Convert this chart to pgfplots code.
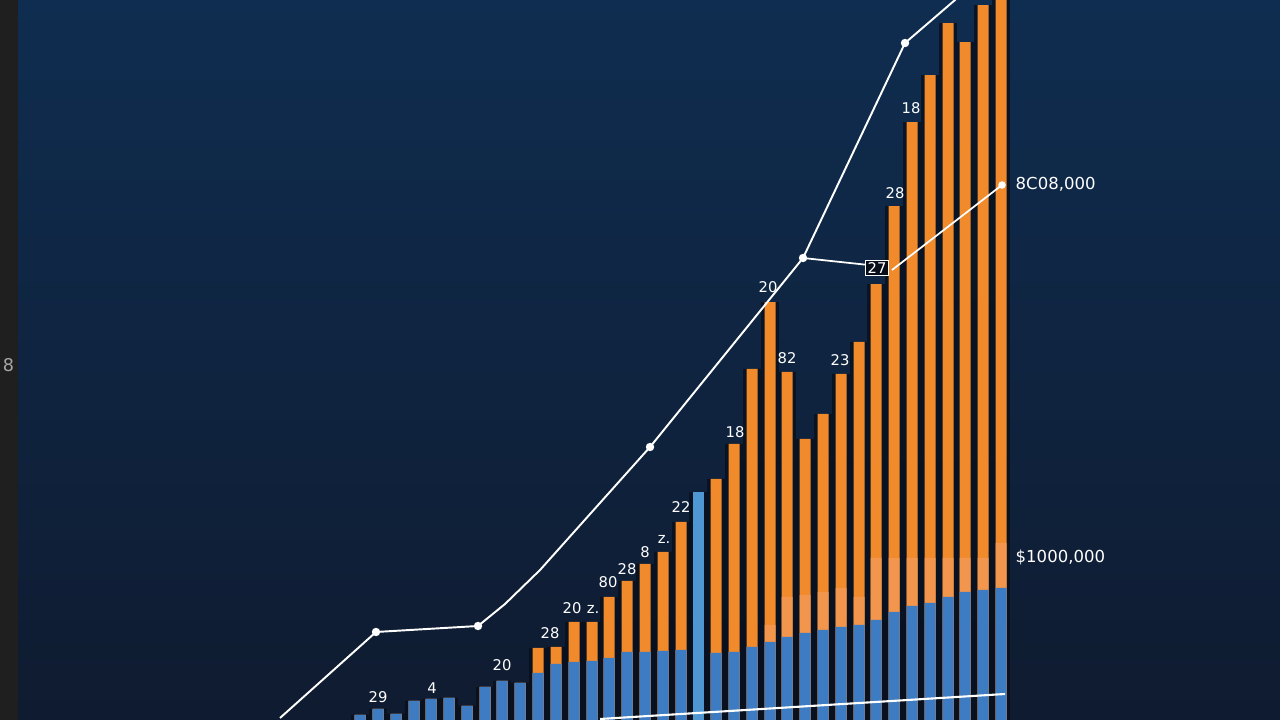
\documentclass[border=0pt]{standalone}
\usepackage{pgfplots}
\usepackage{pgfplotstable}
\pgfplotsset{compat=1.18}
\usepackage{fontspec}
\setmainfont{DejaVu Sans}
\definecolor{bgtop}{HTML}{0F2D50}
\definecolor{bgmid}{HTML}{0F2746}
\definecolor{bgbot}{HTML}{0F1B30}
\definecolor{leftgray}{HTML}{1F1F1F}
\definecolor{barblue}{HTML}{3D7BC2}
\definecolor{lightblue}{HTML}{4F97D2}
\definecolor{barorange}{HTML}{F08A2B}
\definecolor{peach}{HTML}{F29A55}
\definecolor{shadow}{HTML}{070E1A}

% x = bar centre, blue = blue segment height, total = bar height
\pgfplotstableread{
x     blue  total peach
360   5     5     5
378   11    11    11
396   6     6     6
414   19    19    19
431   21    21    21
449   22    22    22
467   14    14    14
485   33    33    33
502   39    39    39
520   37    37    37
538   47    72    47
556   56    73    56
574   58    98    58
592   59    98    59
609   62    123   62
627   68    139   68
645   68    156   68
663   69    168   69
681   70    198   70
716   67    241   67
734   68    276   68
752   73    351   73
770   78    418   95
787   83    348   123
805   87    281   125
823   90    306   128
841   93    346   132
859   95    378   123
876   100   436   162
894   108   514   162
912   114   598   162
930   117   645   162
948   123   697   162
965   128   678   162
983   130   715   162
1001  132   730   177
}\bars

\begin{document}
\begin{tikzpicture}
\useasboundingbox (0,0) rectangle (12.8,7.2);
\shade[top color=bgtop, middle color=bgmid, bottom color=bgbot] (0,0) rectangle (12.8,7.2);
\fill[leftgray] (0,0) rectangle (0.18,7.2);
\node[text=gray!70, font=\fontsize{5}{6}\selectfont, inner sep=0pt] at (0.085,3.55) {8};
\begin{axis}[at={(0,0)}, anchor=south west, scale only axis,
  width=12.8cm, height=7.2cm, xmin=0, xmax=1280, ymin=0, ymax=720,
  axis lines=none, clip=true]
% dark shadow behind bars
\addplot[ybar, bar width=17.8, bar shift=0pt, fill=shadow, draw=none, fill opacity=0.75] table[x=x, y=total] {\bars};
% orange (full height)
\addplot[ybar, bar width=11, bar shift=0pt, fill=barorange, draw=none] table[x=x, y=total] {\bars};
% lighter band just above blue
\addplot[ybar, bar width=11, bar shift=0pt, fill=peach, draw=none, fill opacity=0.8] table[x=x, y=peach] {\bars};
% blue base
\addplot[ybar, bar width=11, bar shift=0pt, fill=barblue, draw=none] table[x=x, y=blue] {\bars};
% odd light blue bar
\addplot[ybar, bar width=17.8, bar shift=0pt, fill=shadow, draw=none, fill opacity=0.75] coordinates {(698,228)};
\addplot[ybar, bar width=11, bar shift=0pt, fill=lightblue, draw=none] coordinates {(698,228)};

% white lines
\addplot[white, line width=0.55pt, mark=*, mark size=0.9pt, mark options={fill=white}, mark indices={2,3,6,7,8}]
  coordinates {(280,2) (376,88) (478,94) (505,116) (540,150) (650,273) (803,462) (905,677) (955,720) (965,733)};
\addplot[white, line width=0.5pt] coordinates {(803,462) (878,454)};
\addplot[white, line width=0.5pt, mark=*, mark size=0.8pt, mark indices={2}] coordinates {(892,450) (1002,535)};
\addplot[white, line width=0.6pt] coordinates {(600,1) (1005,26)};

% labels
\begin{scope}[every node/.style={text=white, font=\fontsize{4.2}{5}\selectfont, inner sep=0pt}]
\node at (axis cs:378,23) {29};
\node at (axis cs:432,32) {4};
\node at (axis cs:502,55) {20};
\node at (axis cs:550,87) {28};
\node at (axis cs:572,112) {20};
\node at (axis cs:593,111) {z.};
\node at (axis cs:608,138) {80};
\node at (axis cs:627,151) {28};
\node at (axis cs:645,168) {8};
\node at (axis cs:664,181) {z.};
\node at (axis cs:681,213) {22};
\node at (axis cs:735,288) {18};
\node at (axis cs:768,433) {20};
\node at (axis cs:787,362) {82};
\node at (axis cs:840,360) {23};
\node at (axis cs:895,527) {28};
\node at (axis cs:911,612) {18};
\node[fill=shadow, draw=white, line width=0.3pt, inner sep=0.5pt] at (axis cs:877,452) {27};
\end{scope}
\node[text=white, font=\fontsize{4.7}{6}\selectfont, anchor=west, inner sep=0pt] at (axis cs:1015,536) {8C08,000};
\node[text=white, font=\fontsize{4.7}{6}\selectfont, anchor=west, inner sep=0pt] at (axis cs:1015,163) {\$1000,000};
\end{axis}
\end{tikzpicture}
\end{document}
